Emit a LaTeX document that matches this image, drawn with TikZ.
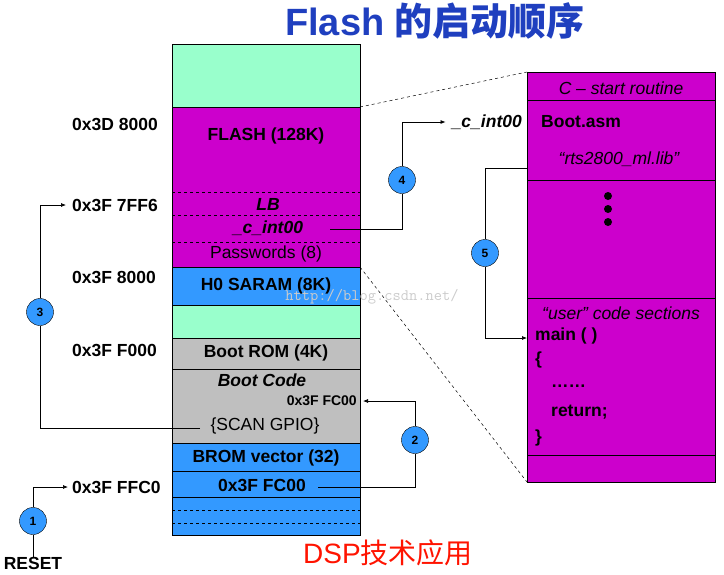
\documentclass[tikz,border=0pt]{standalone}
\usepackage{fontspec}
\setmainfont{Liberation Sans}
\newfontfamily\cjk{Noto Sans CJK SC}
\usetikzlibrary{arrows.meta}
\definecolor{mint}{HTML}{99FFCC}
\definecolor{mag}{HTML}{CC00CC}
\definecolor{lblue}{HTML}{3399FF}
\definecolor{lgray}{HTML}{BFBFBF}
\definecolor{tblue}{HTML}{1F3FBF}
\begin{document}
\begin{tikzpicture}[x=1pt,y=-1pt,
  blk/.style={draw=black,line width=0.8pt},
  dl/.style={dashed,line width=0.5pt},
  fs/.style={font=\fontsize{17.5}{20}\selectfont},
  fb/.style={font=\fontsize{17.5}{20}\selectfont\bfseries},
  fbi/.style={font=\fontsize{17.5}{20}\selectfont\bfseries\itshape},
  fi/.style={font=\fontsize{17.5}{20}\selectfont\itshape},
  lbl/.style={fb,inner sep=0pt},
  addr/.style={fb,anchor=west,inner sep=0pt},
  num/.style={circle,draw=black,fill=lblue,minimum size=27pt,inner sep=0pt,font=\fontsize{12}{13}\selectfont\bfseries},
  conn/.style={line width=0.7pt},
  arr/.style={conn,-{Latex[length=5pt,width=4pt]}}]
\useasboundingbox (0,0) rectangle (724,574);
\fill[mint] (172,44) rectangle (360,107);
\fill[mag] (172,107) rectangle (360,267);
\fill[lblue] (172,267) rectangle (360,305);
\fill[mint] (172,305) rectangle (360,338);
\fill[lgray] (172,338) rectangle (360,443);
\fill[lblue] (172,443) rectangle (360,535);
\draw[blk] (172,44) rectangle (360,535);
\foreach \y in {107,267,305,338,369,443,471,497} \draw[line width=0.6pt] (172,\y) -- (360,\y);
\foreach \y in {192,215,242,510,523} \draw[dl] (172,\y) -- (360,\y);
\node[lbl] (flash) at (266,136) {FLASH (128K)};
\node[lbl,fbi] (lb) at (268,204) {LB};
\node[lbl,fbi] (cint) at (268,228) {\_c\_int00};
\node[lbl,fs] (pw) at (266,254) {Passwords (8)};
\node[lbl] (h0) at (266,286) {H0 SARAM (8K)};
\node[lbl] (brom) at (266,353) {Boot ROM (4K)};
\node[lbl,fbi] (bc) at (262,380) {Boot Code};
\node[lbl,font=\fontsize{14}{16}\selectfont\bfseries,anchor=east] (fc1) at (357,401) {0x3F FC00};
\node[lbl,fs] (scan) at (265,426) {\{SCAN GPIO\}};
\node[lbl] (bv) at (266,458) {BROM vector (32)};
\node[lbl] (fc2) at (262,485) {0x3F FC00};
\node[addr] (a1) at (72,124) {0x3D 8000};
\node[addr] (a2) at (72,205) {0x3F 7FF6};
\node[addr] (a3) at (72,277) {0x3F 8000};
\node[addr] (a4) at (72,350) {0x3F F000};
\node[addr] (a5) at (72,487) {0x3F FFC0};
\fill[mag] (527,72) rectangle (715,482);
\draw[blk] (527,72) rectangle (715,482);
\foreach \y in {100,180,298,455} \draw[line width=0.6pt] (527,\y) -- (715,\y);
\node[lbl,fi] (cs) at (621,88) {C -- start routine};
\node[lbl,anchor=west] (ba) at (541,122) {Boot.asm};
\node[lbl,fi] (rts) at (619,159) {“rts2800\_ml.lib”};
\foreach \y in {196,209,222} \fill (608,\y) circle (4);
\node[lbl,fi] (ucs) at (621,313) {“user” code sections};
\node[lbl,anchor=west] (mn) at (535,336) {main ( )};
\node[lbl,anchor=west] (ob) at (535,360) {\{};
\node[lbl,anchor=west] (dots) at (551,386) {……};
\node[lbl,anchor=west] (ret) at (551,412) {return;};
\node[lbl,anchor=west] (cb) at (535,438) {\}};
\node[lbl,fbi,anchor=east] (ci2) at (522,122) {\_c\_int00};
\draw[dl] (360,107) -- (527,72);
\draw[dl] (360,267) -- (527,482);
\node[font=\fontsize{16}{18}\selectfont\ttfamily,text=gray!40,inner sep=0pt] (wm) at (372,297) {http://blog.csdn.net/};
\node[num] (n1) at (33,521) {1};
\node[num] (n2) at (415,440) {2};
\node[num] (n3) at (40,312) {3};
\node[num] (n4) at (402,180) {4};
\node[num] (n5) at (485,253) {5};
\node[fb,inner sep=0pt] (reset) at (33,563) {RESET};
\coordinate (c4) at (330,229);
\coordinate (c3) at (200,428);
\coordinate (c2) at (318,487);
\coordinate (c5) at (527,168);
\coordinate (c5b) at (527,338);
\draw[conn] (reset.north) -- (n1);
\draw[arr] (n1) |- ([xshift=-4pt]a5.west);
\draw[conn] (c3) -| (n3);
\draw[arr] (n3) |- ([xshift=-6pt]a2.west);
\draw[conn] (c2) -| (n2);
\draw[arr] (n2) |- ([xshift=6pt]fc1.east);
\draw[conn] (c4) -| (n4);
\draw[arr] (n4) |- ([xshift=-6pt]ci2.west);
\draw[conn] (c5) -| (n5);
\draw[arr] (n5) |- (c5b);
\node[font=\fontsize{38}{42}\selectfont\bfseries,text=tblue,inner sep=0pt] (title) at (435,21) {Flash {\cjk 的启动顺序}};
\node[font=\fontsize{28}{32}\selectfont,text=red!85!orange,inner sep=0pt] (dsp) at (388,553) {DSP{\cjk 技术应用}};
\end{tikzpicture}
\end{document}
